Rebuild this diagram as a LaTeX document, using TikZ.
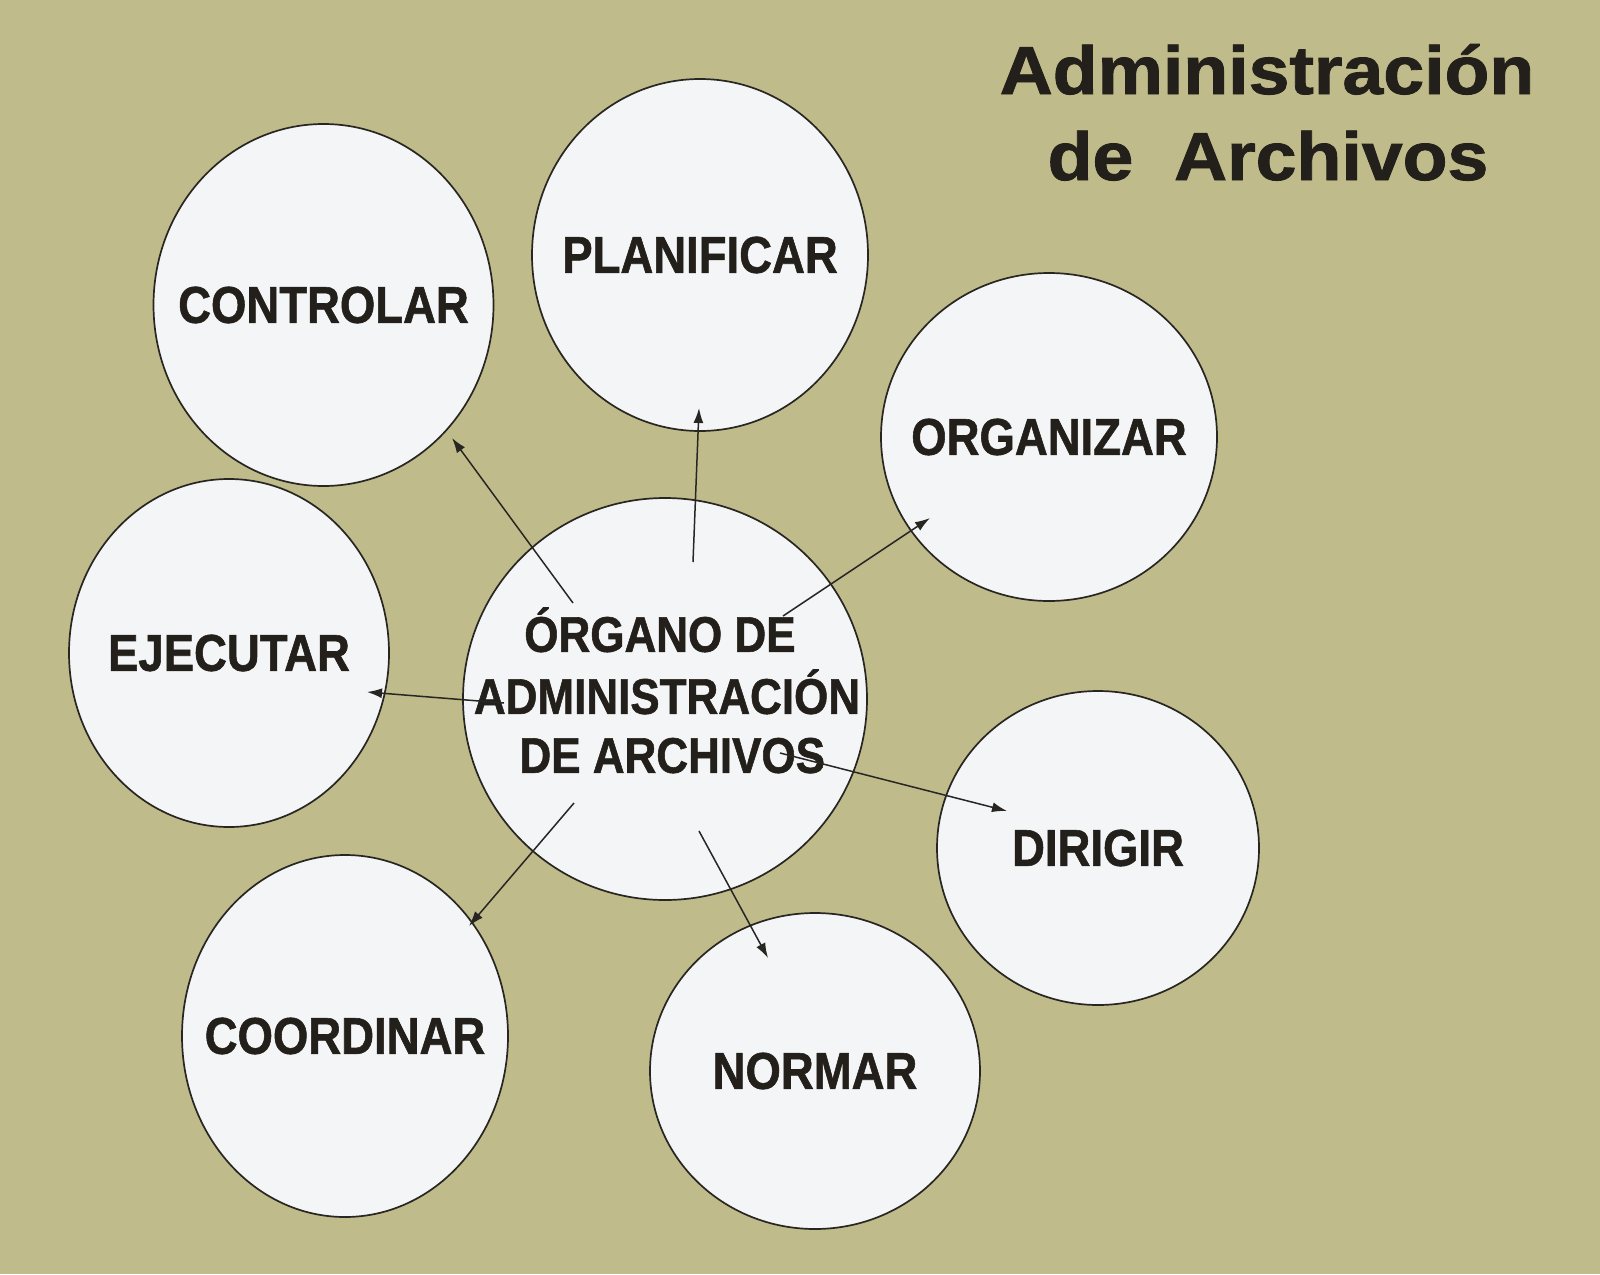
\documentclass[tikz,border=0pt]{standalone}
\usepackage{fontspec}
\setmainfont{Liberation Sans}
\newfontfamily\heavyfont{Liberation Sans Bold}[FakeBold=1.2]
\usepackage{graphicx}
\usetikzlibrary{arrows.meta,shapes.geometric}
\definecolor{bgc}{RGB}{192,187,138}
\definecolor{fillc}{RGB}{244,245,247}
\definecolor{inkc}{RGB}{35,31,26}
\definecolor{linec}{RGB}{40,38,34}
\newcommand{\nar}[1]{\scalebox{0.88}[1]{#1}}
\newcommand{\wid}[1]{\scalebox{1.08}[1]{#1}}
\begin{document}
\begin{tikzpicture}[x=1pt,y=-1pt,
  bubble/.style={ellipse, draw=linec, line width=1.7pt, fill=fillc, inner sep=0pt,
    text=inkc, font=\fontsize{51.7}{60}\selectfont\heavyfont},
  conn/.style={-{Latex[length=15pt,width=10pt]}, line width=1.5pt, draw=linec},
  titletext/.style={anchor=base, text=inkc, inner sep=0pt,
    font=\fontsize{68}{80}\selectfont\heavyfont}]
\useasboundingbox (0,0) rectangle (1600,1274);
\fill[bgc] (0,0) rectangle (1600,1274);

\node[titletext] (t1) at (1267,94) {\wid{Administración}};
\node[titletext] (t2) at (1268,180) {\wid{de\ \ Archivos}};

\node[bubble, minimum width=340pt, minimum height=362pt] (controlar) at (323.5,305) {\makebox[0pt]{\nar{CONTROLAR}}};
\node[bubble, minimum width=336pt, minimum height=352pt] (planificar) at (700,255) {\makebox[0pt]{\nar{PLANIFICAR}}};
\node[bubble, minimum width=336pt, minimum height=328pt] (organizar) at (1049,437) {\makebox[0pt]{\nar{ORGANIZAR}}};
\node[bubble, minimum width=320pt, minimum height=348pt] (ejecutar) at (229,653) {\makebox[0pt]{\nar{EJECUTAR}}};
\node[bubble, minimum width=322pt, minimum height=314pt] (dirigir) at (1098,848) {\makebox[0pt]{\nar{DIRIGIR}}};
\node[bubble, minimum width=326pt, minimum height=362pt] (coordinar) at (345,1036) {\makebox[0pt]{\nar{COORDINAR}}};
\node[bubble, minimum width=330pt, minimum height=316pt] (normar) at (815,1071) {\makebox[0pt]{\nar{NORMAR}}};
\node[bubble, font=\fontsize{50}{59}\selectfont\heavyfont, minimum width=404pt, minimum height=402pt] (organo) at (665,699)
  {\makebox[0pt]{\hspace*{4pt}\nar{\begin{tabular}{@{}c@{}}ÓRGANO DE\hspace*{16pt}\\ADMINISTRACIÓN\\\hspace*{12pt}DE ARCHIVOS\end{tabular}}}};

\coordinate (s1) at (573,603); \coordinate (e1) at (452,438);
\coordinate (s2) at (693,562); \coordinate (e2) at (699,408);
\coordinate (s3) at (783,616); \coordinate (e3) at (930,518);
\coordinate (s4) at (504,703); \coordinate (e4) at (367,692);
\coordinate (s5) at (780,753); \coordinate (e5) at (1007,811);
\coordinate (s6) at (574,803); \coordinate (e6) at (469,926);
\coordinate (s7) at (699,831); \coordinate (e7) at (768,958);

\draw[conn] (s1) -- (e1);
\draw[conn] (s2) -- (e2);
\draw[conn] (s3) -- (e3);
\draw[conn] (s4) -- (e4);
\draw[conn] (s5) -- (e5);
\draw[conn] (s6) -- (e6);
\draw[conn] (s7) -- (e7);
\end{tikzpicture}
\end{document}
